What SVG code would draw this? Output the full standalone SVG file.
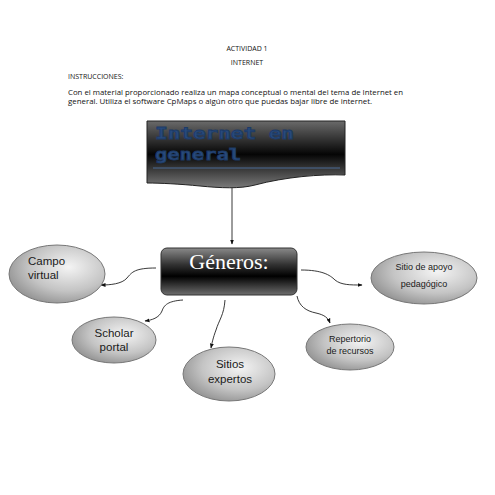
<svg xmlns="http://www.w3.org/2000/svg" width="495" height="495" viewBox="0 0 495 495">
<defs>
<style>
.hdr{font-family:"Open Sans","Liberation Sans",sans-serif;font-size:7px;fill:#111}
.lbl{font-family:"Liberation Sans","Open Sans",sans-serif;fill:#1a1a1a;text-anchor:middle}
.ell{fill:url(#eg);stroke:#777;stroke-width:1}
.con{fill:none;stroke:#222;stroke-width:0.9}
</style>
<radialGradient id="eg" cx="0.62" cy="0.38" r="0.75">
<stop offset="0" stop-color="#f4f4f4"/>
<stop offset="0.55" stop-color="#c4c4c4"/>
<stop offset="1" stop-color="#858585"/>
</radialGradient>
<linearGradient id="dg" x1="0" y1="0" x2="0" y2="1">
<stop offset="0" stop-color="#6a6a6a"/>
<stop offset="0.5" stop-color="#050505"/>
<stop offset="1" stop-color="#7a7a7a"/>
</linearGradient>
<linearGradient id="gg" x1="0" y1="0" x2="0" y2="1">
<stop offset="0" stop-color="#8a8a8a"/>
<stop offset="0.35" stop-color="#333"/>
<stop offset="0.6" stop-color="#000"/>
<stop offset="1" stop-color="#6e6e6e"/>
</linearGradient>
<marker id="ah" viewBox="0 0 10 10" refX="9" refY="5" markerWidth="5" markerHeight="5" orient="auto" markerUnits="userSpaceOnUse">
<path d="M0,1 L10,5 L0,9 z" fill="#111"/>
</marker>
</defs>
<rect width="495" height="495" fill="#fff"/>

<g id="header">
<text class="hdr" x="247" y="51" text-anchor="middle">ACTIVIDAD 1</text>
<text class="hdr" x="247" y="65" text-anchor="middle">INTERNET</text>
<text class="hdr" x="68" y="79">INSTRUCCIONES:</text>
<text class="hdr" x="68" y="95" textLength="335" lengthAdjust="spacingAndGlyphs">Con el material proporcionado realiza un mapa conceptual o mental del tema de Internet en</text>
<text class="hdr" x="68" y="104" textLength="304" lengthAdjust="spacingAndGlyphs">general. Utiliza el software CpMaps o algún otro que puedas bajar libre de internet.</text>
</g>

<g id="connectors">
<path class="con" d="M232,188 L232,244" marker-end="url(#ah)"/>
<path class="con" d="M156,268 C135,268 132,272 127,278 C122,284 110,285 101,285" marker-end="url(#ah)"/>
<path class="con" d="M183,300 C168,301 164,305 162,311 C159,318 152,320 145,321" marker-end="url(#ah)"/>
<path class="con" d="M225,300 C224,315 219,320 216,330 C213,338 212,343 211,348" marker-end="url(#ah)"/>
<path class="con" d="M301,270 C322,270 330,275 335,280 C341,285 350,285 362,285" marker-end="url(#ah)"/>
<path class="con" d="M297,296 C299,306 306,311 316,313 C325,315 328,318 330,323" marker-end="url(#ah)"/>
</g>

<g id="node-internet">
<path d="M147,121 L345,121 L345,175 C320,174 285,177 255,185 C240,189 220,188 200,186 C180,184 160,183 147,183 Z" fill="url(#dg)" stroke="#222" stroke-width="1"/>
<line x1="153" y1="168" x2="340" y2="168" stroke="#4a6a96" stroke-width="1.2"/>
<text x="155" y="139" font-family="DejaVu Sans Mono,monospace" font-weight="bold" font-size="15" fill="#284a7c" stroke="#1d3a66" stroke-width="0.8" textLength="139" lengthAdjust="spacingAndGlyphs">Internet en</text>
<text x="155" y="160" font-family="DejaVu Sans Mono,monospace" font-weight="bold" font-size="15" fill="#284a7c" stroke="#1d3a66" stroke-width="0.8" textLength="86" lengthAdjust="spacingAndGlyphs">general</text>
</g>

<g id="node-generos">
<rect x="161" y="248" width="136" height="47" rx="6" ry="6" fill="url(#gg)" stroke="#333" stroke-width="1"/>
<text x="229" y="269" text-anchor="middle" font-family="Liberation Serif,serif" font-size="22" fill="#fff">Géneros:</text>
</g>

<g id="node-campo">
<ellipse class="ell" cx="57" cy="274" rx="48" ry="29"/>
<text class="lbl" x="28" y="265" font-size="11.5" style="text-anchor:start">Campo</text>
<text class="lbl" x="28" y="279" font-size="11.5" style="text-anchor:start">virtual</text>
</g>

<g id="node-scholar">
<ellipse class="ell" cx="114" cy="340" rx="42" ry="23"/>
<text class="lbl" x="114" y="337" font-size="11.5">Scholar</text>
<text class="lbl" x="114" y="351" font-size="11.5">portal</text>
</g>

<g id="node-sitios">
<ellipse class="ell" cx="229" cy="374" rx="46" ry="27"/>
<text class="lbl" x="230" y="368" font-size="11.5">Sitios</text>
<text class="lbl" x="230" y="383" font-size="11.5">expertos</text>
</g>

<g id="node-apoyo">
<ellipse class="ell" cx="424" cy="278" rx="53" ry="26"/>
<text class="lbl" x="424" y="270" font-size="9">Sitio de apoyo</text>
<text class="lbl" x="424" y="287" font-size="9">pedagógico</text>
</g>

<g id="node-repertorio">
<ellipse class="ell" cx="350" cy="347" rx="44" ry="23"/>
<text class="lbl" x="350" y="342" font-size="9">Repertorio</text>
<text class="lbl" x="350" y="354" font-size="9">de recursos</text>
</g>
</svg>
